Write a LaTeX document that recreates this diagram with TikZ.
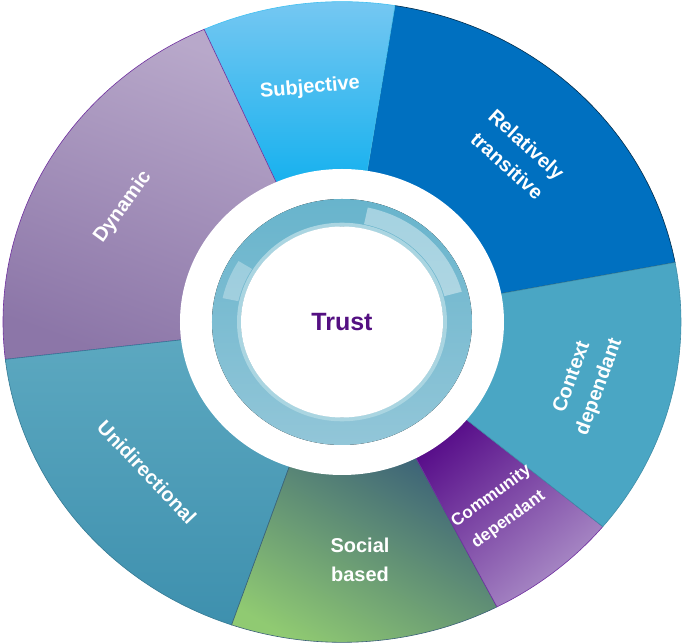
\documentclass[tikz,border=0pt]{standalone}
\usepackage{fontspec}
\setmainfont{Liberation Sans}
\usetikzlibrary{positioning}
\definecolor{relB}{RGB}{0,112,192}
\definecolor{subB}{RGB}{18,176,238}
\definecolor{subL}{RGB}{120,200,242}
\definecolor{dynL}{RGB}{184,168,202}
\definecolor{dynD}{RGB}{140,118,168}
\definecolor{dynE}{RGB}{112,48,160}
\definecolor{uniL}{RGB}{92,168,192}
\definecolor{uniD}{RGB}{62,144,174}
\definecolor{socD}{RGB}{58,96,120}
\definecolor{socG}{RGB}{144,202,114}
\definecolor{comD}{RGB}{88,14,138}
\definecolor{comL}{RGB}{172,144,200}
\definecolor{conB}{RGB}{74,166,196}
\definecolor{ringD}{RGB}{104,180,204}
\definecolor{ringL}{RGB}{146,198,216}
\definecolor{ringE}{RGB}{170,213,225}
\definecolor{trustP}{RGB}{84,16,130}

\begin{document}
\begin{tikzpicture}[x=1pt,y=1pt,
  lab/.style={font=\fontsize{20}{29}\selectfont\bfseries,text=white,align=center,inner sep=0pt},
  segR/.style={fill=relB,draw=black!60!relB,line width=0.6pt},
  segS/.style={top color=subL,bottom color=subB,draw=subB!80!white,line width=0.6pt},
  segD/.style={top color=dynL,bottom color=dynD,shading angle=-20,draw=dynE,line width=0.6pt},
  segU/.style={top color=uniL,bottom color=uniD,draw=uniD!85!black,line width=0.6pt},
  segSo/.style={top color=socD,bottom color=socG,shading angle=-30,draw=socD,line width=0.6pt},
  segC/.style={top color=comD,bottom color=comL,shading angle=40,draw=dynE,line width=0.6pt},
  segX/.style={fill=conB,draw=conB!85!black,line width=0.6pt}]
\useasboundingbox (-342,-322) rectangle (343,322);
% outer and inner radii of the ring of features (x, y)
\def\ro{339}\def\roy{320.35}
\def\ri{150}\def\riy{141.75}
\foreach \a/\b/\sty in {10.7/81/segR, 81/114/segS, 114/186.7/segD, 186.7/251/segU, 251/297.2/segSo, 297.2/320.3/segC, 320.3/370.7/segX}{
  \draw[\sty] ({\ri*cos(\a)},{\riy*sin(\a)}) -- ({\ro*cos(\a)},{\roy*sin(\a)})
    arc[start angle=\a,end angle=\b,x radius=\ro,y radius=\roy]
    -- ({\ri*cos(\b)},{\riy*sin(\b)})
    arc[start angle=\b,end angle=\a,x radius=\ri,y radius=\riy] -- cycle;
}
% white hub with the glass ring
\fill[white] (0,0) ellipse[x radius=162,y radius=153];
\fill[top color=ringD,bottom color=ringL,even odd rule] (0,0) ellipse[x radius=130,y radius=123] (0,0) ellipse[x radius=101,y radius=95.5];
\fill[white,opacity=0.4] ({106*cos(15)},{100*sin(15)}) arc[start angle=15,end angle=78,x radius=106,y radius=100]
  -- ({124*cos(78)},{117*sin(78)}) arc[start angle=78,end angle=15,x radius=124,y radius=117] -- cycle;
\fill[white,opacity=0.3] ({106*cos(148)},{100*sin(148)}) arc[start angle=148,end angle=168,x radius=106,y radius=100]
  -- ({122*cos(168)},{115*sin(168)}) arc[start angle=168,end angle=148,x radius=122,y radius=115] -- cycle;
\draw[ringE,line width=4pt] (0,0) ellipse[x radius=103,y radius=97.3];
\fill[white] (0,0) ellipse[x radius=101,y radius=95.5];
\node[font=\fontsize{25}{25}\selectfont\bfseries,text=trustP] (trust) at (0,0) {Trust};
% feature labels
\node[lab,rotate=5] (subj) at (-32,234) {Subjective};
\node[lab,rotate=-42] (trans) at (175,167) {Relatively\\transitive};
\node[lab,rotate=54] (dyn) at (-219,115) {Dynamic};
\node[lab,rotate=-46.5] (unid) at (-195,-150) {Unidirectional};
\node[lab] (soc) at (18,-238) {Social\\based};
\node[lab,font=\fontsize{17}{29}\selectfont\bfseries,rotate=36] (comm) at (158,-186) {Community\\dependant};
\node[lab,rotate=70] (cont) at (244,-60) {Context\\dependant};
\end{tikzpicture}
\end{document}
